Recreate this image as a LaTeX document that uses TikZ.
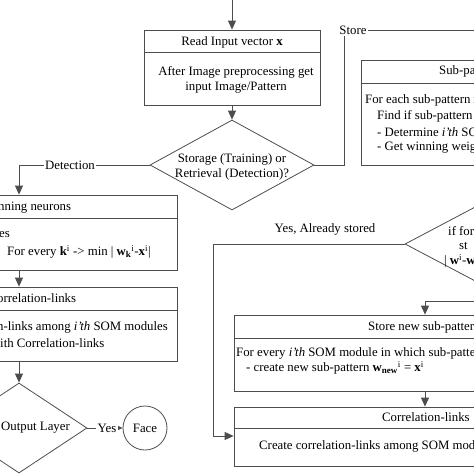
\documentclass[tikz,border=0pt]{standalone}
\usepackage{fontspec}
\setmainfont{Liberation Serif}
\usetikzlibrary{shapes.geometric,arrows.meta}
\definecolor{lc}{HTML}{4D4D4D}
\begin{document}
\begin{tikzpicture}[x=1pt,y=-1pt,
  font=\fontsize{12.8}{15}\selectfont,
  ln/.style={draw=lc, line width=0.8pt},
  box/.style={ln, rectangle, inner sep=0pt},
  dia/.style={ln, diamond, inner sep=0pt},
  arr/.style={ln, -{Triangle[length=9pt,width=8pt]}},
  txt/.style={inner sep=0pt, anchor=west},
  lab/.style={fill=white, inner sep=1.5pt}]
\useasboundingbox (0,0) rectangle (474,474);
\clip (0,0) rectangle (474,474);
% boxes
\node[box, minimum width=176pt, minimum height=75pt] (readbox) at (232,67.5) {};
\node[box, minimum width=249pt, minimum height=105pt] (subbox) at (485.5,112.5) {};
\node[box, minimum width=316pt, minimum height=75pt] (winbox) at (19,232.5) {};
\node[box, minimum width=316pt, minimum height=74pt] (corrL) at (19,324) {};
\node[box, minimum width=386pt, minimum height=76pt] (storebox) at (427,353) {};
\node[box, minimum width=386pt, minimum height=59pt] (corrR) at (427,436.5) {};
% decisions
\node[dia, minimum width=164pt, minimum height=90pt] (dec1) at (232,165) {};
\node[dia, minimum width=136pt, minimum height=90pt] (dec2) at (19,428) {};
\node[dia, minimum width=208pt, minimum height=110pt] (dec3) at (509,244) {};
\node[ln, circle, minimum size=44pt, inner sep=0pt] (face) at (145,428) {Face};
% dividers
\foreach \b/\y in {readbox/52, subbox/83, winbox/218, corrL/310, storebox/338, corrR/428}
  \draw[ln] (\b.west |- 0,\y) -- (\b.east |- 0,\y);
% texts
\node (t1) at (232,42) {Read Input vector \textbf{x}};
\node (t2) at (236,72) {After Image preprocessing get};
\node (t3) at (236,88) {input Image/Pattern};
\node (t4) at (232,159) {Storage (Training) or};
\node (t5) at (232,174) {Retrieval (Detection)?};
\node[txt] (s0) at (439,71) {Sub-pa};
\node[txt] (s1) at (365,100) {For each sub-pattern \textbf{x}};
\node[txt] (s2) at (377,116) {Find if sub-pattern};
\node[txt] (s3) at (377,132) {- Determine \textit{i'th} SO};
\node[txt] (s4) at (377,148) {- Get winning weig};
\node[txt] (w0) at (-2,208) {nning neurons};
\node[txt] (w1) at (-1,235) {es};
\node[txt] (w2) at (7,252) {For every \textbf{k}\textsuperscript{i} -> min | \textbf{w}\textsubscript{\textbf{k}}\textsuperscript{i}-\textbf{x}\textsuperscript{i}|};
\node[txt] (c0) at (-3,298) {orrelation-links};
\node[txt] (c1) at (-3,327) {n-links among \textit{i'th} SOM modules};
\node[txt] (c2) at (0,343) {ith Correlation-links};
\node[txt] (o0) at (1,428) {Output Layer};
\node[txt] (d1) at (448,231) {if for};
\node[txt] (d2) at (459,246) {st};
\node[txt] (d3) at (444,261) {| \textbf{w}\textsuperscript{i}-\textbf{w}};
\node (ys) at (325,229) {Yes, Already stored};
\node[txt] (n0) at (368,327) {Store new sub-patter};
\node[txt] (n1) at (236,353) {For every \textit{i'th} SOM module in which sub-patter};
\node[txt] (n2) at (246,368) {- create new sub-pattern \textbf{w}\textsubscript{\textbf{new}}\textsuperscript{i} = \textbf{x}\textsuperscript{i}};
\node[txt] (r0) at (382,417) {Correlation-links};
\node[txt] (r1) at (259,446) {Create correlation-links among SOM mod};
% connectors
\coordinate (topin) at (232,-2);
\draw[arr] (topin) -- (readbox.north);
\draw[arr] (readbox.south) -- (dec1.north);
\coordinate (stc) at (344,30);
\coordinate (stout) at (480,30);
\draw[ln] (dec1.east) -| (stc) -- (stout);
\node[lab] (store) at (353,30) {Store};
\draw[arr] (dec1.west) -| (winbox.north);
\node[lab] (det) at (70,165) {Detection};
\draw[arr] (winbox.south) -- (corrL.north);
\draw[arr] (corrL.south) -- (dec2.north);
\draw[arr] (dec2.east) -- (face.west);
\node[lab] (yes) at (107,428) {Yes};
\coordinate (ya) at (213,244);
\coordinate (yb) at (213,436);
\draw[arr] (dec3.west) -- (ya) -- (yb) -- (yb -| corrR.west);
\coordinate (noin) at (480,301);
\coordinate (colR) at (425,0);
\draw[arr] (noin) -| (storebox.north -| colR);
\draw[arr] (storebox.south -| colR) -- (corrR.north -| colR);
\end{tikzpicture}
\end{document}
